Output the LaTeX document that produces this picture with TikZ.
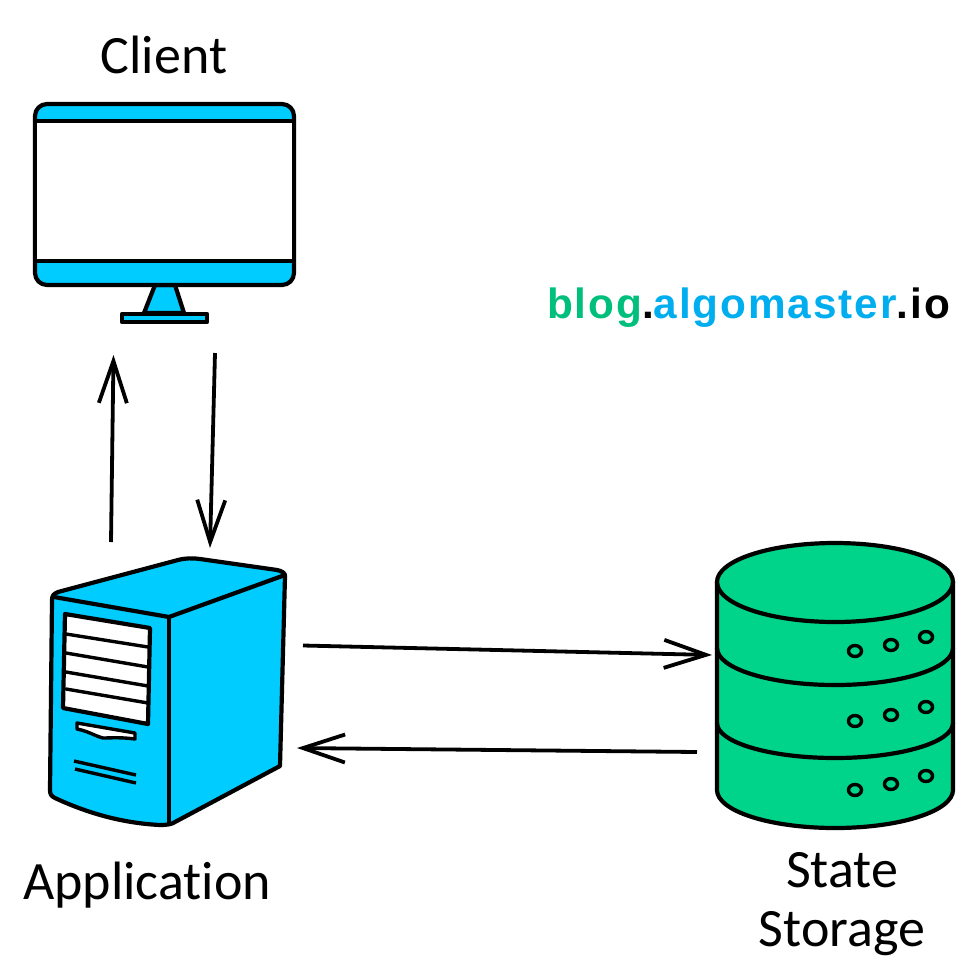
\documentclass[tikz,border=0pt]{standalone}
\usepackage{fontspec}
\setmainfont{Carlito}[Ligatures=CommonOff]
\newfontfamily\logofont{Liberation Sans}[LetterSpace=4.5]
\usetikzlibrary{arrows.meta}
\definecolor{cyanfill}{HTML}{00CCFF}
\definecolor{greenfill}{HTML}{00D38A}
\definecolor{logogreen}{HTML}{00BF7D}
\definecolor{logoblue}{HTML}{00AEEF}
\tikzset{
  ol/.style={draw=black,line width=4.2pt,line join=round,line cap=round},
  thin ol/.style={draw=black,line width=3.4pt,line join=round,line cap=round},
  link/.style={draw=black,line width=3.8pt,-{Straight Barb[length=42pt,width=28pt,line width=3.8pt]}},
  label/.style={font=\fontsize{54}{56}\selectfont,inner sep=0pt,text=black},
  hole/.style={draw=black,line width=3.4pt,fill=greenfill},
}
\begin{document}
\begin{tikzpicture}[x=1pt,y=-1pt]
\useasboundingbox (0,0) rectangle (978,978);
\fill[white] (0,0) rectangle (978,978);
% monitor
\draw[ol,fill=cyanfill] (155,285) -- (144,313) -- (184,313) -- (175,285) -- cycle;
\draw[ol,fill=cyanfill] (122,314) rectangle (207,322);
\draw[ol,fill=cyanfill,rounded corners=12pt] (35,104) rectangle (294,285);
\draw[ol,fill=white] (35,121) rectangle (294,261);
% server
\draw[ol,fill=cyanfill] (52,600) .. controls (52,595) and (54,594) .. (58,592)
  -- (178,560) .. controls (186,558) and (192,558) .. (200,559)
  -- (277,570) .. controls (282,571) and (285,573) .. (285,576)
  -- (280,766) -- (175,822) .. controls (172,824) and (168,825) .. (160,825)
  .. controls (120,823) and (85,812) .. (55,798) .. controls (51,796) and (50,794) .. (50,790) -- cycle;
\draw[ol] (54,597) -- (169,617) -- (285,575);
\draw[ol] (169,617) -- (169,823);
\draw[ol,fill=white] (65,614) -- (150,628) -- (148,724) -- (63,708) -- cycle;
\draw[thin ol] (66,634) -- (148,647);
\draw[thin ol] (66,653) -- (148,667);
\draw[thin ol] (66,672) -- (148,686);
\draw[thin ol] (66,689) -- (148,703);
\draw[thin ol,fill=white] (77,723) -- (135,733) -- (135,739)
  .. controls (120,737) and (110,738) .. (103,738) .. controls (95,736) and (88,731) .. (77,729) -- cycle;
\draw[thin ol,line cap=butt] (74,761) -- (136,775);
\draw[thin ol,line cap=butt] (75,769) -- (136,783);
% cylinder
\draw[ol,fill=greenfill] (717,582) -- (717,790) arc[start angle=180,end angle=360,x radius=118,y radius=-38]
  -- (953,582) arc[start angle=0,end angle=180,x radius=118,y radius=-39] -- cycle;
\draw[ol] (717,582) arc[start angle=180,end angle=360,x radius=118,y radius=-40];
\draw[ol] (717,648) arc[start angle=180,end angle=360,x radius=118,y radius=-37];
\draw[ol] (717,723) arc[start angle=180,end angle=360,x radius=118,y radius=-35];
\foreach \yy in {0,70,139}{
  \draw[hole] (855,651+\yy) ellipse[x radius=6.5,y radius=5.5];
  \draw[hole] (891,645+\yy) ellipse[x radius=6.5,y radius=5.5];
  \draw[hole] (926,637+\yy) ellipse[x radius=6.5,y radius=5.5];
}
% labels
\node[label] (client) at (164,55) {Client};
\node[label] (app) at (147,885) {Application};
\node[label] (state) at (842,870) {State};
\node[label] (storage) at (842,934) {Storage};
\node[inner sep=0pt,anchor=base west,font=\logofont\bfseries\fontsize{42.3}{44}\selectfont] (logo) at (547,318)
  {\textcolor{logogreen}{blog}\textcolor{black}{.}\textcolor{logoblue}{algomaster}\textcolor{black}{.io}};
% connector ends
\coordinate (upa) at (111,542);
\coordinate (upb) at (113.5,355);
\coordinate (dna) at (215,353);
\coordinate (dnb) at (210,548);
\coordinate (ria) at (303,645.5);
\coordinate (rib) at (712,655);
\coordinate (lea) at (697,752);
\coordinate (leb) at (297,748);
\draw[link] (upa) -- (upb);
\draw[link] (dna) -- (dnb);
\draw[link] (ria) -- (rib);
\draw[link] (lea) -- (leb);
\end{tikzpicture}
\end{document}
